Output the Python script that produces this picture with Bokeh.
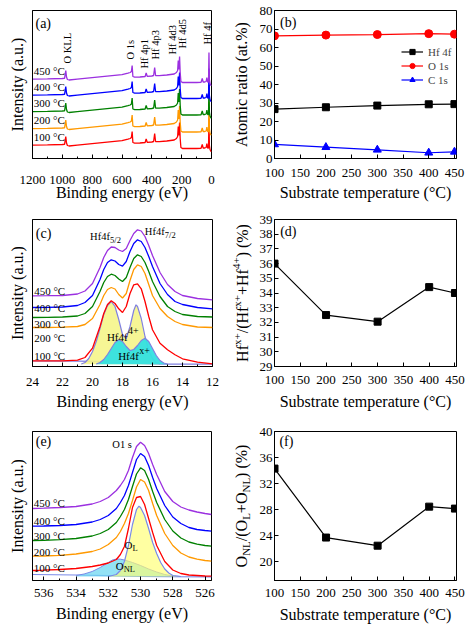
import math
from bokeh.plotting import figure
from bokeh.layouts import column, row
from bokeh.models import Range1d, FixedTicker, Label, Legend, LegendItem
from bokeh.embed import file_html
from bokeh.resources import INLINE

FONT = "Liberation Serif"

# ---------------- data ----------------
temps = ["100 °C", "200 °C", "300 °C", "400 °C", "450 °C"]
colors = ["#FF0000", "#FF9900", "#008000", "#0000FF", "#9B30E0"]

# (a) survey spectra (binding energy, intensity a.u.), stacked
survey_be = [1200, 1100, 1000, 985, 977, 972, 966, 955, 900, 800,
             700, 600, 560, 545, 537, 532, 527, 515, 480, 445,
             438, 431, 400, 388, 381, 375, 350, 300, 250, 235,
             227, 223, 219, 214, 210, 205, 195, 150, 100, 70,
             62, 56, 45, 36, 31, 26, 20, 17, 14, 10, 5, 0]
survey_counts = [13.3, 13.6, 14.0, 14.2, 22.0, 15.5, 13.0, 12.5, 13.3, 14.8,
                 16.3, 17.8, 19.3, 20.0, 21.0, 27.0, 16.0, 15.3, 15.5, 16.0,
                 19.5, 16.2, 16.5, 17.0, 25.0, 17.0, 16.8, 17.5, 18.5, 20.0,
                 22.0, 32.0, 23.0, 36.0, 20.0, 11.0, 10.0, 10.0, 10.0, 10.2,
                 14.0, 10.5, 10.5, 11.0, 15.0, 10.5, 10.5, 40.0, 13.0, 9.0, 7.5, 6.7]
survey_offsets = [0, 16.5, 33.5, 50, 66]
survey_peaks = ["O KLL", "O 1s", "Hf 4p1", "Hf 4p3", "Hf 4d3", "Hf 4d5", "Hf 4f"]
survey_peak_be = [966, 542, 449, 375, 263, 197, 29]
survey_peak_lab_y = [95, 99, 90, 99, 104, 110, 114]

# (b) atomic ratio
sub_temp = [100, 200, 300, 400, 450]
hf4f = [26.7, 27.7, 28.6, 29.3, 29.4]
o1s = [66.3, 66.7, 67.0, 67.5, 67.2]
c1s = [7.6, 6.1, 4.7, 3.1, 3.6]

# (c) Hf 4f spectra
c_be = [24, 23, 22, 21, 20.5, 20, 19.5, 19.25, 19, 18.75, 18.5, 18.25, 18, 17.75,
        17.5, 17.25, 17, 16.75, 16.5, 16.25, 16, 15.5, 15, 14.5, 14, 13, 12]
c_100 = [5.7, 5.7, 5.7, 6.3, 9, 18.3, 40, 53, 62, 65.7, 63, 57.7, 54, 60,
         73, 81.7, 82.7, 77.7, 65, 50, 36.7, 23.3, 16.7, 11.7, 7.7, 4.3, 2.7]
c_200 = [39, 39, 39.3, 40, 42, 48, 62, 71, 77, 79, 77.5, 72, 68.5, 73,
         86, 97, 101.7, 100, 93, 82, 71, 58, 50, 45, 42, 39.5, 39]
c_300 = [49, 49.2, 49.5, 50.5, 53, 60, 75, 84, 90, 92.3, 91, 87.5, 85, 89,
         99, 108, 111.7, 110, 104, 95, 85, 70, 60, 55, 52, 50, 49.5]
c_400 = [59, 59.2, 59.5, 61, 64, 71, 87, 97, 104, 106.7, 105.5, 102, 100.3, 105,
         115, 123, 126.7, 125, 119, 110, 100, 83, 72, 65, 62, 59, 57.7]
c_450 = [70.7, 70.8, 71, 72.5, 75.5, 83, 99, 109, 116, 119.5, 119, 116.5, 115, 118,
         126, 133, 136.7, 135.5, 130, 121, 111, 94, 82, 75, 71, 68, 66.7]
c_4plus_be = [20.75, 20.5, 20.25, 20, 19.75, 19.5, 19.25, 19, 18.75, 18.5, 18.25, 18,
              17.75, 17.5, 17.25, 17.1, 17, 16.75, 16.5, 16.25, 16, 15.75, 15.5]
c_4plus = [2.5, 4, 8, 15, 25, 38, 52, 61, 65, 60, 47, 32,
           28, 40, 56, 61.7, 60, 48, 30, 16, 8, 4, 2.5]
c_xplus_be = [19.75, 19.5, 19.25, 19, 18.75, 18.5, 18.25, 18, 17.75, 17.5,
              17.25, 17, 16.75, 16.5, 16.25, 16, 15.75, 15.5, 15.25, 15]
c_xplus = [2.5, 4, 7, 12, 18, 24, 26.7, 25, 20, 16,
           17, 21, 26, 28.3, 25, 18, 11, 6, 3.5, 2.5]
c_bg_be = [24, 21, 20, 19, 18, 17, 16, 15, 12]
c_bg = [5.5, 5.4, 5.2, 4.6, 3.8, 3.0, 2.5, 2.3, 2.3]

# (d) Hf x+ fraction
hfx_frac = [36.0, 32.5, 32.05, 34.4, 34.0]

# (e) O 1s spectra
e_be = [536.7, 536, 535, 534, 533, 532.5, 532, 531.5, 531.25, 531, 530.75, 530.5, 530.25,
        530, 529.75, 529.5, 529.25, 529, 528.5, 528, 527.5, 527, 526.5, 526, 525.6]
e_100 = [10, 10.3, 11, 12, 14, 15.5, 17.5, 21, 26, 34, 52, 73, 83,
         84, 76, 62, 48, 35, 19, 10.5, 7, 5.5, 5, 4.5, 4.3]
e_200 = [24.3, 24.5, 25.2, 26.5, 29, 31.5, 36, 43, 49, 57, 67, 80, 93.5,
         101, 98.5, 90, 77, 65, 47, 35, 27.5, 23.5, 21.3, 20, 19.3]
e_300 = [40, 40.2, 40.8, 42, 44.5, 47, 51, 58, 64, 71, 81, 94, 106.5,
         112.7, 110, 101, 89, 78, 61, 49.5, 42.5, 38.5, 36.3, 35, 34.3]
e_400 = [54.3, 54.5, 55, 56, 58.5, 61, 65, 72, 78, 85, 95, 108, 121,
         127, 124, 115, 103, 92, 75, 63.5, 57, 53, 51, 50, 49.3]
e_450 = [72, 72.3, 73, 74, 76.5, 79, 83, 90, 95, 101, 110, 123, 134,
         138.3, 135, 127, 116, 106, 89, 79, 73.5, 70.5, 68.5, 67, 66]
ol_be = [532, 531.5, 531.25, 531, 530.75, 530.5, 530.25, 530.1, 530, 529.75,
         529.5, 529.25, 529, 528.75, 528.5, 528.25, 528, 527.5]
ol_counts = [4, 6, 10, 19, 35, 56, 71, 74.3, 73, 65, 52, 38, 27, 18, 11.5, 7.5, 5, 4]
onl_be = [534, 533.5, 533, 532.5, 532, 531.75, 531.5, 531.25, 531, 530.5,
          530, 529.5, 529, 528.5, 528, 527.5]
onl_counts = [5, 6.5, 9, 13, 18, 20.5, 21.5, 21.3, 20.5, 18, 15, 11.5, 8.5, 6, 4.5, 4]
e_bg_be = [536.7, 534, 532, 530, 528, 525.6]
e_bg = [6, 5.5, 4.8, 4, 3.8, 3.7]

# (f) O_NL fraction
onl_frac = [34.3, 23.7, 22.45, 28.45, 28.15]

# ---------------- helpers ----------------
def make_fig(w, h, xr, yr, bl, br, bt, bb):
    p = figure(width=w, height=h, x_range=xr, y_range=yr, output_backend="svg",
               toolbar_location=None, tools="",
               min_border_left=bl, min_border_right=br,
               min_border_top=bt, min_border_bottom=bb)
    p.xgrid.visible = False
    p.ygrid.visible = False
    p.outline_line_color = "black"
    p.outline_line_width = 1
    p.outline_line_alpha = 1
    p.background_fill_color = "white"
    p.border_fill_color = "white"
    return p


def label_fig(w, h, bt, bb):
    fh = h - bt - bb
    p = figure(width=w, height=h, x_range=Range1d(0, w), y_range=Range1d(0, fh),
               output_backend="svg", toolbar_location=None, tools="",
               x_axis_type=None, y_axis_type=None,
               min_border_left=0, min_border_right=0,
               min_border_top=bt, min_border_bottom=bb)
    p.xgrid.visible = False
    p.ygrid.visible = False
    p.outline_line_color = None
    p.background_fill_color = "white"
    p.border_fill_color = "white"
    return p, fh


def style_axis(ax, label, ticks, minor=(), major_std=6, label_std=3):
    ax.ticker = FixedTicker(ticks=list(ticks), minor_ticks=list(minor))
    ax.axis_label = label
    ax.axis_label_text_font = FONT
    ax.axis_label_text_font_size = "16px"
    ax.axis_label_text_font_style = "normal"
    ax.axis_label_text_color = "black"
    ax.axis_label_standoff = label_std
    ax.major_label_text_font = FONT
    ax.major_label_text_font_size = "13px"
    ax.major_label_text_color = "black"
    ax.major_label_standoff = major_std
    ax.major_tick_in = 4
    ax.major_tick_out = 0
    ax.minor_tick_in = 2
    ax.minor_tick_out = 0
    ax.axis_line_color = "black"
    ax.major_tick_line_color = "black"
    ax.minor_tick_line_color = "black"


def add_label(p, x, y, text, size, angle=0.0, align="left", baseline="middle",
              x_offset=0, y_offset=0):
    p.add_layout(Label(x=x, y=y, text=text, text_font=FONT,
                       text_font_size=f"{size}px", text_align=align,
                       text_baseline=baseline, angle=angle, text_color="black",
                       x_offset=x_offset, y_offset=y_offset))


def rot_pieces(p, x0, y0, pieces):
    y = y0
    for text, size, dx, w in pieces:
        add_label(p, x0 + dx, y, text, size, angle=math.pi / 2)
        y += w


LW = 230          # left column figure width
LABW = 26         # y-label strip for right column
RW = 474 - LW - LABW
RBL, RBR = 273 - LW - LABW, 18   # right figure borders
R1, R2, R3 = 207, 210, 215       # row heights
T1, B1 = 10, 49
T2, B2 = 12, 51
T3, B3 = 14, 52

# ---------------- (a) ----------------
xa, ya = Range1d(1200, 0), Range1d(0, R1 - T1 - B1)
pa = make_fig(LW, R1, xa, ya, 32, 19, T1, B1)
for i in range(5):
    pa.line(survey_be, [c + survey_offsets[i] for c in survey_counts],
            color=colors[i], line_width=1.3)
    add_label(pa, 1191, survey_counts[0] + survey_offsets[i] + 8.5, temps[i], 11)
for name, be, yy in zip(survey_peaks, survey_peak_be, survey_peak_lab_y):
    add_label(pa, be, yy, name, 10.5, angle=math.pi / 2)
add_label(pa, 1180, 135, "(a)", 14)
style_axis(pa.xaxis[0], "Binding energy (eV)", range(0, 1201, 200),
           range(100, 1200, 200), major_std=17, label_std=-3)
style_axis(pa.yaxis[0], "Intensity (a.u.)", [], [], major_std=0, label_std=7)

# ---------------- (b) ----------------
xb, yb = Range1d(100, 454), Range1d(0, 80)
pb = make_fig(RW, R1, xb, yb, RBL, RBR, T1, B1)
l1 = pb.line(sub_temp, hf4f, color="black", line_width=1.2)
s1 = pb.scatter(sub_temp, hf4f, marker="square", size=7, color="black")
l2 = pb.line(sub_temp, o1s, color="#FF0000", line_width=1.2)
s2 = pb.scatter(sub_temp, o1s, marker="circle", size=8, color="#FF0000")
l3 = pb.line(sub_temp, c1s, color="#0000FF", line_width=1.2)
s3 = pb.scatter(sub_temp, c1s, marker="triangle", size=8, color="#0000FF")
leg = Legend(items=[LegendItem(label="Hf 4f", renderers=[l1, s1]),
                    LegendItem(label="O 1s", renderers=[l2, s2]),
                    LegendItem(label="C 1s", renderers=[l3, s3])],
             location=(127, 72))
leg.label_text_font = FONT
leg.label_text_font_size = "11px"
leg.glyph_width = 22
leg.glyph_height = 13
leg.label_height = 13
leg.spacing = 1
leg.padding = 0
leg.margin = 0
leg.label_standoff = 5
leg.border_line_color = None
leg.background_fill_alpha = 0
pb.add_layout(leg)
add_label(pb, 110.9, 73.7, "(b)", 14)
style_axis(pb.xaxis[0], "Substrate temperature (°C)", range(100, 451, 50), major_std=10, label_std=4)
style_axis(pb.yaxis[0], None, range(0, 81, 10), major_std=2, label_std=1)
lab_b, fh_b = label_fig(LABW, R1, T1, B1)
add_label(lab_b, 11, fh_b / 2, "Atomic ratio (at.%)", 16, angle=math.pi / 2, align="center")

# ---------------- (c) ----------------
xc, yc = Range1d(24, 12), Range1d(0, R2 - T2 - B2)
pc = make_fig(LW, R2, xc, yc, 32, 18, T2, B2)
pc.line(c_bg_be, c_bg, color="#8080E0", line_width=1.2)
pc.varea(x=c_4plus_be, y1=2.3, y2=c_4plus, fill_color="#F5F58A", fill_alpha=0.9)
pc.line(c_4plus_be, c_4plus, color="#8080E0", line_width=1.2)
pc.varea(x=c_xplus_be, y1=2.3, y2=c_xplus, fill_color="#33E0E0", fill_alpha=0.95)
pc.line(c_xplus_be, c_xplus, color="#8080E0", line_width=1.2)
c_curves = [c_100, c_200, c_300, c_400, c_450]
c_lab_y = [11, 28.3, 42.7, 58.3, 75.7]
for i in range(5):
    pc.line(c_be, c_curves[i], color=colors[i], line_width=1.3)
    add_label(pc, 23.89, c_lab_y[i], temps[i], 11)
add_label(pc, 23.78, 133.3, "(c)", 14)
add_label(pc, 20.16, 130, "Hf4f", 10.5)
add_label(pc, 20.16, 130, "5/2", 8.5, x_offset=20, y_offset=-3)
add_label(pc, 16.51, 135, "Hf4f", 10.5)
add_label(pc, 16.51, 135, "7/2", 8.5, x_offset=20, y_offset=-3)
add_label(pc, 19.04, 30, "Hf4f", 11)
add_label(pc, 19.04, 30, "4+", 10, x_offset=21, y_offset=6)
add_label(pc, 18.29, 11, "Hf4f", 11)
add_label(pc, 18.29, 11, "x+", 10, x_offset=21, y_offset=5)
style_axis(pc.xaxis[0], "Binding energy (eV)", range(12, 25, 2), range(13, 24, 2),
           major_std=11, label_std=4)
style_axis(pc.yaxis[0], "Intensity (a.u.)", [], [], major_std=0, label_std=7)

# ---------------- (d) ----------------
xd, yd = Range1d(100, 453), Range1d(29, 39)
pdd = make_fig(RW, R2, xd, yd, RBL, RBR, T2, B2)
pdd.line(sub_temp, hfx_frac, color="black", line_width=1.2)
pdd.scatter(sub_temp, hfx_frac, marker="square", size=7, color="black")
add_label(pdd, 111, 38.16, "(d)", 14)
style_axis(pdd.xaxis[0], "Substrate temperature (°C)", range(100, 451, 50), major_std=9, label_std=6)
style_axis(pdd.yaxis[0], None, range(29, 40), major_std=2, label_std=1)
lab_d, fh_d = label_fig(LABW, R2, T2, B2)
rot_pieces(lab_d, 12, fh_d / 2 - 68.9, [
    ("Hf", 16, 0, 16.88), ("x+", 11, -6, 11.70), ("/(Hf", 16, 0, 26.66),
    ("x+", 11, -6, 11.70), ("+Hf", 16, 0, 25.9), ("4+", 11, -6, 11.70),
    (") (%)", 16, 0, 33.31)])

# ---------------- (e) ----------------
xe, ye = Range1d(536.7, 525.6), Range1d(0, R3 - T3 - B3)
pe = make_fig(LW, R3, xe, ye, 32, 19, T3, B3)
pe.line(e_bg_be, e_bg, color="#7A8AE8", line_width=1.2)
pe.varea(x=onl_be, y1=4, y2=onl_counts, fill_color="#6FD8F2", fill_alpha=0.75)
pe.line(onl_be, onl_counts, color="#7A8AE8", line_width=1.0)
pe.varea(x=ol_be, y1=4, y2=ol_counts, fill_color="#FFFF70", fill_alpha=0.65)
pe.line(ol_be, ol_counts, color="#7A8AE8", line_width=1.2)
e_curves = [e_100, e_200, e_300, e_400, e_450]
e_lab_y = [12.7, 28.3, 44.3, 59.3, 77.7]
for i in range(5):
    pe.line(e_be, e_curves[i], color=colors[i], line_width=1.3)
    add_label(pe, 536.62, e_lab_y[i], temps[i], 11)
add_label(pe, 536.5, 139.3, "(e)", 14)
add_label(pe, 531.75, 136, "O1 s", 10.5)
add_label(pe, 530.99, 36, "O", 11)
add_label(pe, 530.99, 36, "L", 8.5, x_offset=8, y_offset=-3)
add_label(pe, 531.54, 14.3, "O", 11)
add_label(pe, 531.54, 14.3, "NL", 8.5, x_offset=8, y_offset=-3)
style_axis(pe.xaxis[0], "Binding energy (eV)", range(526, 537, 2), range(527, 536, 2),
           major_std=8, label_std=5)
style_axis(pe.yaxis[0], "Intensity (a.u.)", [], [], major_std=0, label_std=7)

# ---------------- (f) ----------------
xf, yf = Range1d(100, 453), Range1d(17.1, 40)
pf = make_fig(RW, R3, xf, yf, RBL, RBR, T3, B3)
pf.line(sub_temp, onl_frac, color="black", line_width=1.2)
pf.scatter(sub_temp, onl_frac, marker="square", size=7, color="black")
add_label(pf, 109.5, 38.47, "(f)", 14)
style_axis(pf.xaxis[0], "Substrate temperature (°C)", range(100, 451, 50), major_std=8, label_std=6)
style_axis(pf.yaxis[0], None, range(20, 41, 4), major_std=2, label_std=1)
lab_f, fh_f = label_fig(LABW, R3, T3, B3)
rot_pieces(lab_f, 11, fh_f / 2 - 61.4, [
    ("O", 16, 0, 11.55), ("NL", 11, 4, 14.66), ("/(O", 16, 0, 21.33),
    ("L", 11, 4, 6.72), ("+O", 16, 0, 20.58), ("NL", 11, 4, 14.66),
    (") (%)", 16, 0, 33.31)])

layout = column(row(pa, lab_b, pb), row(pc, lab_d, pdd), row(pe, lab_f, pf))
open("out.html", "w").write(file_html(layout, INLINE))
